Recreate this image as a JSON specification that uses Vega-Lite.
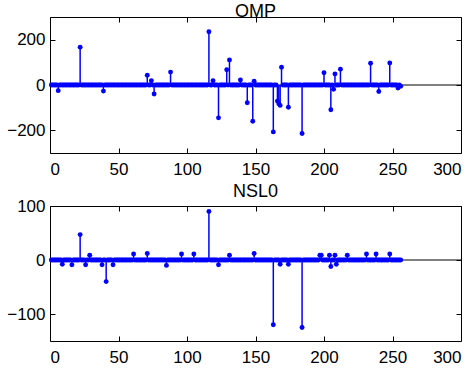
{
"$schema":"https://vega.github.io/schema/vega-lite/v6.json",
"padding":{"left":6,"top":2,"right":0,"bottom":0},
"spacing":4,
"config":{"font":"Liberation Sans","view":{"stroke":"black","strokeWidth":1},
"axis":{"grid":false,"domain":false,"tickColor":"black","tickSize":-5,"tickWidth":1,"labelFontSize":17,"labelColor":"black","labelFont":"Liberation Sans","labelPadding":10,"title":null},
"axisBottom":{"labelPadding":13},
"axisTop":{"labelPadding":0},
"axisRight":{"labelPadding":0},
"title":{"fontSize":18,"fontWeight":"normal","font":"Liberation Sans","offset":-4,"color":"black"}},
"datasets":{"sig":[
{"x":1,"o":0,"n":0},{"x":2,"o":0,"n":0},{"x":3,"o":0,"n":0},{"x":4,"o":0,"n":0},{"x":5,"o":0,"n":0},{"x":6,"o":-25,"n":0},{"x":7,"o":0,"n":0},{"x":8,"o":0,"n":0},{"x":9,"o":0,"n":-8},{"x":10,"o":0,"n":0},
{"x":11,"o":0,"n":0},{"x":12,"o":0,"n":0},{"x":13,"o":0,"n":0},{"x":14,"o":0,"n":0},{"x":15,"o":0,"n":0},{"x":16,"o":0,"n":-9},{"x":17,"o":0,"n":0},{"x":18,"o":0,"n":0},{"x":19,"o":0,"n":0},{"x":20,"o":0,"n":0},
{"x":21,"o":0,"n":0},{"x":22,"o":167,"n":47},{"x":23,"o":0,"n":0},{"x":24,"o":0,"n":0},{"x":25,"o":0,"n":0},{"x":26,"o":0,"n":-9},{"x":27,"o":0,"n":0},{"x":28,"o":0,"n":0},{"x":29,"o":0,"n":9},{"x":30,"o":0,"n":0},
{"x":31,"o":0,"n":0},{"x":32,"o":0,"n":0},{"x":33,"o":0,"n":0},{"x":34,"o":0,"n":0},{"x":35,"o":0,"n":0},{"x":36,"o":0,"n":0},{"x":37,"o":0,"n":0},{"x":38,"o":0,"n":-9},{"x":39,"o":-27,"n":0},{"x":40,"o":0,"n":0},
{"x":41,"o":0,"n":-40},{"x":42,"o":0,"n":0},{"x":43,"o":0,"n":0},{"x":44,"o":0,"n":0},{"x":45,"o":0,"n":0},{"x":46,"o":0,"n":-9},{"x":47,"o":0,"n":0},{"x":48,"o":0,"n":0},{"x":49,"o":0,"n":0},{"x":50,"o":0,"n":0},
{"x":51,"o":0,"n":0},{"x":52,"o":0,"n":0},{"x":53,"o":0,"n":0},{"x":54,"o":0,"n":0},{"x":55,"o":0,"n":0},{"x":56,"o":0,"n":0},{"x":57,"o":0,"n":0},{"x":58,"o":0,"n":0},{"x":59,"o":0,"n":0},{"x":60,"o":0,"n":0},
{"x":61,"o":0,"n":11},{"x":62,"o":0,"n":0},{"x":63,"o":0,"n":0},{"x":64,"o":0,"n":0},{"x":65,"o":0,"n":0},{"x":66,"o":0,"n":0},{"x":67,"o":0,"n":0},{"x":68,"o":0,"n":0},{"x":69,"o":0,"n":0},{"x":70,"o":0,"n":0},
{"x":71,"o":43,"n":12},{"x":72,"o":0,"n":0},{"x":73,"o":0,"n":0},{"x":74,"o":19,"n":0},{"x":75,"o":0,"n":0},{"x":76,"o":-40,"n":0},{"x":77,"o":0,"n":0},{"x":78,"o":0,"n":0},{"x":79,"o":0,"n":0},{"x":80,"o":0,"n":0},
{"x":81,"o":0,"n":0},{"x":82,"o":0,"n":0},{"x":83,"o":0,"n":0},{"x":84,"o":0,"n":0},{"x":85,"o":0,"n":-10},{"x":86,"o":0,"n":0},{"x":87,"o":0,"n":0},{"x":88,"o":57,"n":0},{"x":89,"o":0,"n":0},{"x":90,"o":0,"n":0},
{"x":91,"o":0,"n":0},{"x":92,"o":0,"n":0},{"x":93,"o":0,"n":0},{"x":94,"o":0,"n":0},{"x":95,"o":0,"n":0},{"x":96,"o":0,"n":11},{"x":97,"o":0,"n":0},{"x":98,"o":0,"n":0},{"x":99,"o":0,"n":0},{"x":100,"o":0,"n":0},
{"x":101,"o":0,"n":0},{"x":102,"o":0,"n":0},{"x":103,"o":0,"n":0},{"x":104,"o":0,"n":0},{"x":105,"o":0,"n":11},{"x":106,"o":0,"n":0},{"x":107,"o":0,"n":0},{"x":108,"o":0,"n":0},{"x":109,"o":0,"n":0},{"x":110,"o":0,"n":0},
{"x":111,"o":0,"n":0},{"x":112,"o":0,"n":0},{"x":113,"o":0,"n":0},{"x":114,"o":0,"n":0},{"x":115,"o":0,"n":0},{"x":116,"o":235,"n":90},{"x":117,"o":0,"n":0},{"x":118,"o":0,"n":0},{"x":119,"o":19,"n":0},{"x":120,"o":0,"n":0},
{"x":121,"o":0,"n":0},{"x":122,"o":0,"n":0},{"x":123,"o":-145,"n":-9},{"x":124,"o":0,"n":0},{"x":125,"o":0,"n":0},{"x":126,"o":0,"n":0},{"x":127,"o":0,"n":0},{"x":128,"o":0,"n":0},{"x":129,"o":67,"n":0},{"x":130,"o":0,"n":0},
{"x":131,"o":110,"n":9},{"x":132,"o":0,"n":0},{"x":133,"o":0,"n":0},{"x":134,"o":0,"n":0},{"x":135,"o":0,"n":0},{"x":136,"o":0,"n":0},{"x":137,"o":0,"n":0},{"x":138,"o":0,"n":0},{"x":139,"o":22,"n":0},{"x":140,"o":0,"n":0},
{"x":141,"o":0,"n":0},{"x":142,"o":0,"n":0},{"x":143,"o":0,"n":0},{"x":144,"o":-78,"n":0},{"x":145,"o":0,"n":0},{"x":146,"o":0,"n":0},{"x":147,"o":0,"n":0},{"x":148,"o":-160,"n":0},{"x":149,"o":17,"n":12},{"x":150,"o":0,"n":0},
{"x":151,"o":0,"n":0},{"x":152,"o":0,"n":0},{"x":153,"o":0,"n":0},{"x":154,"o":0,"n":0},{"x":155,"o":0,"n":0},{"x":156,"o":0,"n":0},{"x":157,"o":0,"n":0},{"x":158,"o":0,"n":0},{"x":159,"o":0,"n":0},{"x":160,"o":0,"n":0},
{"x":161,"o":0,"n":0},{"x":162,"o":0,"n":0},{"x":163,"o":-207,"n":-120},{"x":164,"o":0,"n":0},{"x":165,"o":0,"n":0},{"x":166,"o":-71,"n":0},{"x":167,"o":-83,"n":0},{"x":168,"o":-90,"n":-8},{"x":169,"o":78,"n":0},{"x":170,"o":0,"n":0},
{"x":171,"o":0,"n":0},{"x":172,"o":0,"n":0},{"x":173,"o":0,"n":0},{"x":174,"o":-98,"n":-8},{"x":175,"o":0,"n":0},{"x":176,"o":0,"n":0},{"x":177,"o":0,"n":0},{"x":178,"o":0,"n":0},{"x":179,"o":0,"n":0},{"x":180,"o":0,"n":0},
{"x":181,"o":0,"n":0},{"x":182,"o":0,"n":0},{"x":183,"o":0,"n":0},{"x":184,"o":-214,"n":-125},{"x":185,"o":0,"n":0},{"x":186,"o":0,"n":0},{"x":187,"o":0,"n":0},{"x":188,"o":0,"n":0},{"x":189,"o":0,"n":0},{"x":190,"o":0,"n":0},
{"x":191,"o":0,"n":0},{"x":192,"o":0,"n":0},{"x":193,"o":0,"n":0},{"x":194,"o":0,"n":0},{"x":195,"o":0,"n":0},{"x":196,"o":0,"n":0},{"x":197,"o":0,"n":9},{"x":198,"o":0,"n":9},{"x":199,"o":0,"n":0},{"x":200,"o":54,"n":0},
{"x":201,"o":0,"n":0},{"x":202,"o":0,"n":0},{"x":203,"o":0,"n":0},{"x":204,"o":0,"n":9},{"x":205,"o":-109,"n":-12},{"x":206,"o":0,"n":0},{"x":207,"o":-19,"n":0},{"x":208,"o":49,"n":9},{"x":209,"o":0,"n":-8},{"x":210,"o":0,"n":0},
{"x":211,"o":0,"n":0},{"x":212,"o":70,"n":0},{"x":213,"o":0,"n":0},{"x":214,"o":0,"n":0},{"x":215,"o":0,"n":0},{"x":216,"o":0,"n":0},{"x":217,"o":0,"n":9},{"x":218,"o":0,"n":0},{"x":219,"o":0,"n":0},{"x":220,"o":0,"n":0},
{"x":221,"o":0,"n":0},{"x":222,"o":0,"n":0},{"x":223,"o":0,"n":0},{"x":224,"o":0,"n":0},{"x":225,"o":0,"n":0},{"x":226,"o":0,"n":0},{"x":227,"o":0,"n":0},{"x":228,"o":0,"n":0},{"x":229,"o":0,"n":0},{"x":230,"o":0,"n":0},
{"x":231,"o":0,"n":11},{"x":232,"o":0,"n":0},{"x":233,"o":0,"n":0},{"x":234,"o":96,"n":0},{"x":235,"o":0,"n":0},{"x":236,"o":0,"n":0},{"x":237,"o":0,"n":0},{"x":238,"o":0,"n":11},{"x":239,"o":0,"n":0},{"x":240,"o":-29,"n":0},
{"x":241,"o":0,"n":0},{"x":242,"o":0,"n":0},{"x":243,"o":0,"n":0},{"x":244,"o":0,"n":0},{"x":245,"o":0,"n":0},{"x":246,"o":0,"n":0},{"x":247,"o":0,"n":0},{"x":248,"o":97,"n":11},{"x":249,"o":0,"n":0},{"x":250,"o":0,"n":0},
{"x":251,"o":0,"n":0},{"x":252,"o":0,"n":0},{"x":253,"o":0,"n":0},{"x":254,"o":-13,"n":0},{"x":255,"o":0,"n":0},{"x":256,"o":-6,"n":0}
]},
"vconcat":[
{"title":"OMP","width":411,"height":136,"data":{"name":"sig"},
"resolve":{"axis":{"x":"independent","y":"independent"}},
"layer":[
{"data":{"values":[{}]},"mark":{"type":"rule","color":"black","strokeWidth":1},"encoding":{"y":{"datum":0,"type":"quantitative","scale":{"domain":[-300,300],"nice":false},"axis":null}}},
{"mark":{"type":"rule","color":"#0000ff","strokeWidth":1.5},"encoding":{
"x":{"field":"x","type":"quantitative","scale":{"domain":[0,300],"nice":false},"axis":{"orient":"bottom","values":[0,50,100,150,200,250,300]}},
"y":{"field":"o","type":"quantitative","scale":{"domain":[-300,300],"nice":false},"axis":{"orient":"left","values":[-200,0,200]}},
"y2":{"datum":0}}},
{"mark":{"type":"point","filled":true,"color":"#0000ff","size":24,"opacity":1},"encoding":{
"x":{"field":"x","type":"quantitative","axis":{"orient":"top","labels":false,"values":[0,50,100,150,200,250,300]}},
"y":{"field":"o","type":"quantitative","axis":{"orient":"right","labels":false,"values":[-200,0,200]}}}}
]},
{"title":"NSL0","width":411,"height":135,"data":{"name":"sig"},
"resolve":{"axis":{"x":"independent","y":"independent"}},
"layer":[
{"data":{"values":[{}]},"mark":{"type":"rule","color":"black","strokeWidth":1},"encoding":{"y":{"datum":0,"type":"quantitative","scale":{"domain":[-150,100],"nice":false},"axis":null}}},
{"mark":{"type":"rule","color":"#0000ff","strokeWidth":1.5},"encoding":{
"x":{"field":"x","type":"quantitative","scale":{"domain":[0,300],"nice":false},"axis":{"orient":"bottom","values":[0,50,100,150,200,250,300]}},
"y":{"field":"n","type":"quantitative","scale":{"domain":[-150,100],"nice":false},"axis":{"orient":"left","values":[-100,0,100]}},
"y2":{"datum":0}}},
{"mark":{"type":"point","filled":true,"color":"#0000ff","size":24,"opacity":1},"encoding":{
"x":{"field":"x","type":"quantitative","axis":{"orient":"top","labels":false,"values":[0,50,100,150,200,250,300]}},
"y":{"field":"n","type":"quantitative","axis":{"orient":"right","labels":false,"values":[-100,0,100]}}}}
]}
]
}
